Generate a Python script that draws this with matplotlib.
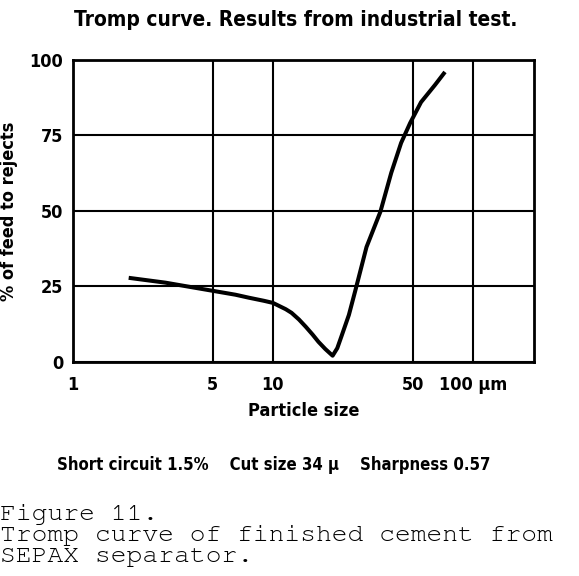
import matplotlib.pyplot as plt

# Tromp curve (particle size in um, % of feed to rejects)
size_um = [1.9, 2.9, 4.0, 5.0, 6.5, 7.6, 9.0, 10.0, 11.6, 12.4, 13.5, 14.6, 15.8,
           16.9, 18.3, 19.9, 21.0, 22.0, 24.0, 25.9, 29.4, 34.5, 39.1, 43.8,
           48.6, 55.1, 64.7, 72.6]
rejects_pct = [27.8, 26.2, 24.6, 23.5, 22.2, 21.2, 20.2, 19.5, 17.4, 16.2, 14.0,
               11.6, 9.0, 6.6, 4.2, 2.0, 4.5, 8.3, 15.5, 23.8, 38.0, 49.7, 62.6,
               72.5, 79.1, 86.0, 91.7, 96.0]

x_ticks = [1, 5, 10, 50, 100]
x_labels = ['1', '5', '10', '50', '100 \u03bcm']
y_ticks = [0, 25, 50, 75, 100]

# narrow bold lettering like the original print
plt.rcParams['font.family'] = ['DejaVu Sans']
plt.rcParams['font.stretch'] = 'condensed'
plt.rcParams['font.weight'] = 'bold'
plt.rcParams['axes.labelweight'] = 'bold'

fig = plt.figure(figsize=(5.79, 5.76), dpi=100)
ax = fig.add_axes([0.126, 0.372, 0.796, 0.524])

ax.plot(size_um, rejects_pct, color='black', lw=2.9, solid_capstyle='butt',
        solid_joinstyle='round')

ax.set_xscale('log')
ax.set_xlim(1, 202)
ax.set_ylim(0, 100)
ax.set_xticks(x_ticks)
ax.set_xticklabels(x_labels)
ax.minorticks_off()
ax.set_yticks(y_ticks)
ax.tick_params(length=0, labelsize=13)
ax.tick_params(axis='x', pad=10)
ax.tick_params(axis='y', pad=7)

ax.grid(True, color='black', lw=1.5)
for s in ax.spines.values():
    s.set_linewidth(2)

ax.set_xlabel('Particle size', fontsize=13, labelpad=6)
ax.set_ylabel('% of feed to rejects', fontsize=13, labelpad=8)

fig.text(0.51, 0.965, 'Tromp curve. Results from industrial test.',
         ha='center', va='center', fontsize=15)
fig.text(0.473, 0.193, 'Short circuit 1.5%    Cut size 34 \u03bc    Sharpness 0.57',
         ha='center', va='center', fontsize=12)

# typewritten caption under the chart
mono = ['FreeMono', 'Courier Prime', 'Liberation Mono', 'DejaVu Sans Mono']
caption = ['Figure 11.', 'Tromp curve of finished cement from', 'SEPAX separator.']
for i, line in enumerate(caption):
    fig.text(0.0, 0.106 - i * 0.0365, line, ha='left', va='center',
             fontsize=19, family=mono, fontweight='normal', fontstretch='normal')

fig.savefig('out.png', dpi=100)
